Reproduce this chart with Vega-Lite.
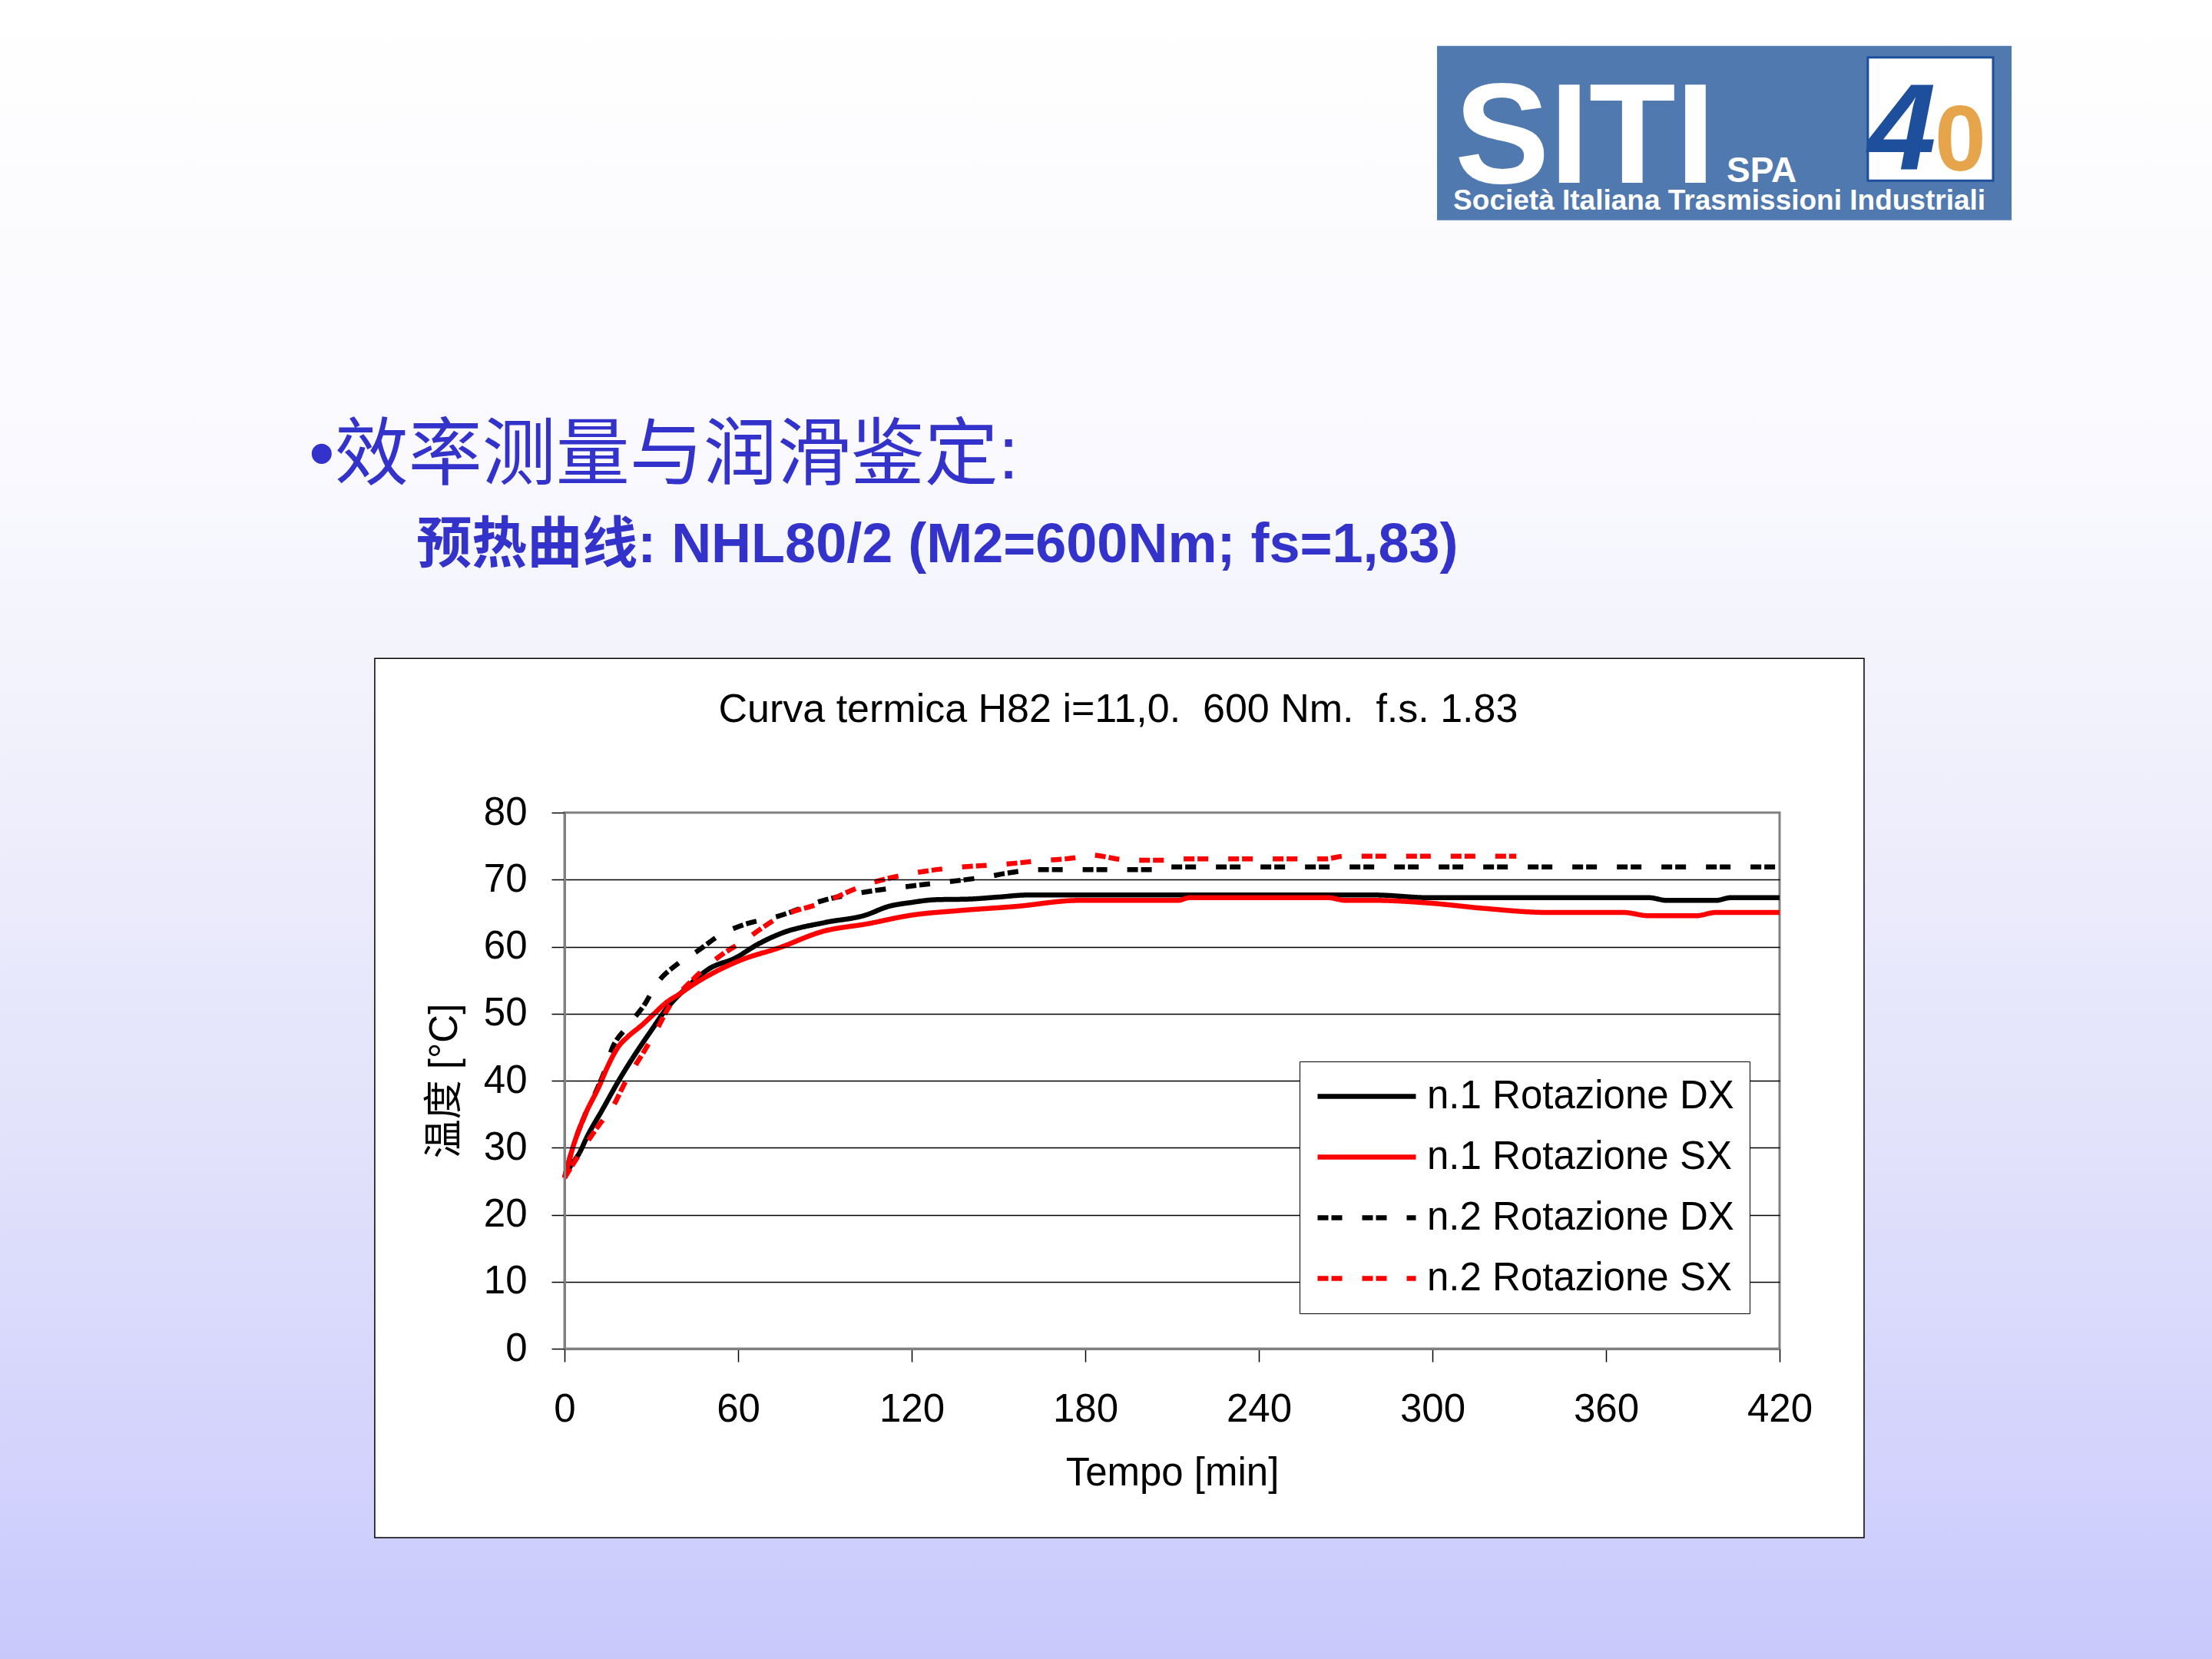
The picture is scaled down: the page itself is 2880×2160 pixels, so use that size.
{
  "$schema": "https://vega.github.io/schema/vega-lite/v6.json",
  "autosize": {"type": "none"},
  "width": 1582,
  "height": 698,
  "padding": {"left": 735, "top": 1058, "right": 563, "bottom": 404},
  "background": "#ffffff",
  "config": {
    "font": "Liberation Sans",
    "view": {"stroke": null}
  },
  "resolve": {"scale": {"x": "independent", "y": "independent"}},
  "data": {
    "values": [
      {"t": 0, "temp": 25.5, "serie": "n.1 Rotazione DX"},
      {"t": 2, "temp": 27.2, "serie": "n.1 Rotazione DX"},
      {"t": 5, "temp": 29.1, "serie": "n.1 Rotazione DX"},
      {"t": 8, "temp": 31.8, "serie": "n.1 Rotazione DX"},
      {"t": 13, "temp": 35.6, "serie": "n.1 Rotazione DX"},
      {"t": 19, "temp": 40.2, "serie": "n.1 Rotazione DX"},
      {"t": 24.5, "temp": 44, "serie": "n.1 Rotazione DX"},
      {"t": 30, "temp": 47.5, "serie": "n.1 Rotazione DX"},
      {"t": 35, "temp": 50.6, "serie": "n.1 Rotazione DX"},
      {"t": 42, "temp": 53.8, "serie": "n.1 Rotazione DX"},
      {"t": 50, "temp": 56.7, "serie": "n.1 Rotazione DX"},
      {"t": 59, "temp": 58.3, "serie": "n.1 Rotazione DX"},
      {"t": 67, "temp": 60.4, "serie": "n.1 Rotazione DX"},
      {"t": 75, "temp": 62, "serie": "n.1 Rotazione DX"},
      {"t": 90, "temp": 63.6, "serie": "n.1 Rotazione DX"},
      {"t": 104, "temp": 64.7, "serie": "n.1 Rotazione DX"},
      {"t": 112, "temp": 66, "serie": "n.1 Rotazione DX"},
      {"t": 120, "temp": 66.6, "serie": "n.1 Rotazione DX"},
      {"t": 128, "temp": 67, "serie": "n.1 Rotazione DX"},
      {"t": 140, "temp": 67.1, "serie": "n.1 Rotazione DX"},
      {"t": 150, "temp": 67.4, "serie": "n.1 Rotazione DX"},
      {"t": 160, "temp": 67.7, "serie": "n.1 Rotazione DX"},
      {"t": 220, "temp": 67.7, "serie": "n.1 Rotazione DX"},
      {"t": 280, "temp": 67.7, "serie": "n.1 Rotazione DX"},
      {"t": 299, "temp": 67.3, "serie": "n.1 Rotazione DX"},
      {"t": 375, "temp": 67.3, "serie": "n.1 Rotazione DX"},
      {"t": 381, "temp": 66.9, "serie": "n.1 Rotazione DX"},
      {"t": 398, "temp": 66.9, "serie": "n.1 Rotazione DX"},
      {"t": 403, "temp": 67.3, "serie": "n.1 Rotazione DX"},
      {"t": 420, "temp": 67.3, "serie": "n.1 Rotazione DX"},

      {"t": 0, "temp": 25.5, "serie": "n.2 Rotazione DX"},
      {"t": 3, "temp": 30.2, "serie": "n.2 Rotazione DX"},
      {"t": 7, "temp": 34.8, "serie": "n.2 Rotazione DX"},
      {"t": 11, "temp": 38.5, "serie": "n.2 Rotazione DX"},
      {"t": 14, "temp": 41.6, "serie": "n.2 Rotazione DX"},
      {"t": 16, "temp": 44.3, "serie": "n.2 Rotazione DX"},
      {"t": 22, "temp": 48.2, "serie": "n.2 Rotazione DX"},
      {"t": 28.3, "temp": 51.8, "serie": "n.2 Rotazione DX"},
      {"t": 31, "temp": 53.9, "serie": "n.2 Rotazione DX"},
      {"t": 39.3, "temp": 57.5, "serie": "n.2 Rotazione DX"},
      {"t": 45.8, "temp": 59.3, "serie": "n.2 Rotazione DX"},
      {"t": 54.4, "temp": 61.9, "serie": "n.2 Rotazione DX"},
      {"t": 61.5, "temp": 63.2, "serie": "n.2 Rotazione DX"},
      {"t": 74.3, "temp": 64.6, "serie": "n.2 Rotazione DX"},
      {"t": 89.5, "temp": 66.9, "serie": "n.2 Rotazione DX"},
      {"t": 104.6, "temp": 68.2, "serie": "n.2 Rotazione DX"},
      {"t": 119, "temp": 69, "serie": "n.2 Rotazione DX"},
      {"t": 135, "temp": 69.8, "serie": "n.2 Rotazione DX"},
      {"t": 147, "temp": 70.5, "serie": "n.2 Rotazione DX"},
      {"t": 152, "temp": 70.9, "serie": "n.2 Rotazione DX"},
      {"t": 164, "temp": 71.5, "serie": "n.2 Rotazione DX"},
      {"t": 204, "temp": 71.5, "serie": "n.2 Rotazione DX"},
      {"t": 208, "temp": 71.9, "serie": "n.2 Rotazione DX"},
      {"t": 300, "temp": 71.9, "serie": "n.2 Rotazione DX"},
      {"t": 420, "temp": 71.9, "serie": "n.2 Rotazione DX"},

      {"t": 0, "temp": 25.5, "serie": "n.1 Rotazione SX"},
      {"t": 3, "temp": 30.2, "serie": "n.1 Rotazione SX"},
      {"t": 7, "temp": 34.8, "serie": "n.1 Rotazione SX"},
      {"t": 12, "temp": 39.2, "serie": "n.1 Rotazione SX"},
      {"t": 15, "temp": 42.2, "serie": "n.1 Rotazione SX"},
      {"t": 18.5, "temp": 45, "serie": "n.1 Rotazione SX"},
      {"t": 22, "temp": 46.6, "serie": "n.1 Rotazione SX"},
      {"t": 26.5, "temp": 48.2, "serie": "n.1 Rotazione SX"},
      {"t": 31, "temp": 50, "serie": "n.1 Rotazione SX"},
      {"t": 35, "temp": 51.6, "serie": "n.1 Rotazione SX"},
      {"t": 40, "temp": 53, "serie": "n.1 Rotazione SX"},
      {"t": 44, "temp": 54.2, "serie": "n.1 Rotazione SX"},
      {"t": 51.5, "temp": 56.1, "serie": "n.1 Rotazione SX"},
      {"t": 61, "temp": 58, "serie": "n.1 Rotazione SX"},
      {"t": 74, "temp": 59.8, "serie": "n.1 Rotazione SX"},
      {"t": 89.5, "temp": 62.3, "serie": "n.1 Rotazione SX"},
      {"t": 104.6, "temp": 63.4, "serie": "n.1 Rotazione SX"},
      {"t": 120, "temp": 64.7, "serie": "n.1 Rotazione SX"},
      {"t": 137, "temp": 65.4, "serie": "n.1 Rotazione SX"},
      {"t": 156, "temp": 66, "serie": "n.1 Rotazione SX"},
      {"t": 178, "temp": 66.9, "serie": "n.1 Rotazione SX"},
      {"t": 212, "temp": 66.9, "serie": "n.1 Rotazione SX"},
      {"t": 216, "temp": 67.3, "serie": "n.1 Rotazione SX"},
      {"t": 264, "temp": 67.3, "serie": "n.1 Rotazione SX"},
      {"t": 270, "temp": 66.9, "serie": "n.1 Rotazione SX"},
      {"t": 280, "temp": 66.9, "serie": "n.1 Rotazione SX"},
      {"t": 299, "temp": 66.5, "serie": "n.1 Rotazione SX"},
      {"t": 318, "temp": 65.7, "serie": "n.1 Rotazione SX"},
      {"t": 340, "temp": 65.1, "serie": "n.1 Rotazione SX"},
      {"t": 366, "temp": 65.1, "serie": "n.1 Rotazione SX"},
      {"t": 375, "temp": 64.6, "serie": "n.1 Rotazione SX"},
      {"t": 391, "temp": 64.6, "serie": "n.1 Rotazione SX"},
      {"t": 398, "temp": 65.1, "serie": "n.1 Rotazione SX"},
      {"t": 420, "temp": 65.1, "serie": "n.1 Rotazione SX"},

      {"t": 0, "temp": 25.5, "serie": "n.2 Rotazione SX"},
      {"t": 6, "temp": 29.6, "serie": "n.2 Rotazione SX"},
      {"t": 12.3, "temp": 33.6, "serie": "n.2 Rotazione SX"},
      {"t": 16, "temp": 35.6, "serie": "n.2 Rotazione SX"},
      {"t": 21.3, "temp": 40, "serie": "n.2 Rotazione SX"},
      {"t": 27.4, "temp": 44.3, "serie": "n.2 Rotazione SX"},
      {"t": 31.1, "temp": 47, "serie": "n.2 Rotazione SX"},
      {"t": 36.4, "temp": 51.2, "serie": "n.2 Rotazione SX"},
      {"t": 44.4, "temp": 55.1, "serie": "n.2 Rotazione SX"},
      {"t": 54.4, "temp": 58.8, "serie": "n.2 Rotazione SX"},
      {"t": 61, "temp": 60.6, "serie": "n.2 Rotazione SX"},
      {"t": 74.3, "temp": 64.4, "serie": "n.2 Rotazione SX"},
      {"t": 89.5, "temp": 66.6, "serie": "n.2 Rotazione SX"},
      {"t": 104.6, "temp": 69.3, "serie": "n.2 Rotazione SX"},
      {"t": 119.8, "temp": 70.9, "serie": "n.2 Rotazione SX"},
      {"t": 135, "temp": 71.8, "serie": "n.2 Rotazione SX"},
      {"t": 152, "temp": 72.3, "serie": "n.2 Rotazione SX"},
      {"t": 164, "temp": 72.8, "serie": "n.2 Rotazione SX"},
      {"t": 178.5, "temp": 73.4, "serie": "n.2 Rotazione SX"},
      {"t": 181, "temp": 73.7, "serie": "n.2 Rotazione SX"},
      {"t": 195.5, "temp": 72.9, "serie": "n.2 Rotazione SX"},
      {"t": 207, "temp": 72.9, "serie": "n.2 Rotazione SX"},
      {"t": 212.6, "temp": 73.1, "serie": "n.2 Rotazione SX"},
      {"t": 263, "temp": 73.1, "serie": "n.2 Rotazione SX"},
      {"t": 269.5, "temp": 73.5, "serie": "n.2 Rotazione SX"},
      {"t": 329, "temp": 73.5, "serie": "n.2 Rotazione SX"}
    ]
  },
  "layer": [
    {
      "data": {"values": [{}]},
      "mark": {
        "type": "rect",
        "clip": false,
        "fill": {
          "gradient": "linear", "x1": 0, "y1": 0, "x2": 0, "y2": 1,
          "stops": [
            {"offset": 0, "color": "#ffffff"},
            {"offset": 0.3, "color": "#f8f8fe"},
            {"offset": 0.46, "color": "#f0f0fc"},
            {"offset": 0.7, "color": "#e1e1fb"},
            {"offset": 0.93, "color": "#cfcffd"},
            {"offset": 1, "color": "#c8c8fa"}
          ]
        }
      },
      "encoding": {
        "x": {"datum": -195.13, "type": "quantitative", "scale": {"domain": [0, 420], "nice": false, "zero": false}, "axis": null},
        "x2": {"datum": 569.5},
        "y": {"datum": 201.26, "type": "quantitative", "scale": {"domain": [0, 80], "nice": false}, "axis": null},
        "y2": {"datum": -46.3}
      }
    },
    {
      "data": {"values": [{}]},
      "mark": {"type": "rect", "clip": false, "fill": "#5079b0"},
      "encoding": {
        "x": {"datum": 301.6, "type": "quantitative", "scale": {"domain": [0, 420], "nice": false, "zero": false}, "axis": null},
        "x2": {"datum": 500.2},
        "y": {"datum": 194.4, "type": "quantitative", "scale": {"domain": [0, 80], "nice": false}, "axis": null},
        "y2": {"datum": 168.4}
      }
    },
    {
      "data": {"values": [{}]},
      "mark": {"type": "rect", "clip": false, "fill": "#ffffff", "stroke": "#1d4f9c", "strokeWidth": 3},
      "encoding": {
        "x": {"datum": 450.5, "type": "quantitative", "scale": {"domain": [0, 420], "nice": false, "zero": false}, "axis": null},
        "x2": {"datum": 493.8},
        "y": {"datum": 192.7, "type": "quantitative", "scale": {"domain": [0, 80], "nice": false}, "axis": null},
        "y2": {"datum": 174.3}
      }
    },
    {
      "data": {"values": [{}]},
      "mark": {"type": "text", "clip": false, "text": "SITI", "fontWeight": "bold", "fontSize": 185, "color": "#ffffff", "align": "left", "baseline": "alphabetic"},
      "encoding": {
        "x": {"datum": 307.7, "type": "quantitative", "scale": {"domain": [0, 420], "nice": false, "zero": false}, "axis": null},
        "y": {"datum": 174.0, "type": "quantitative", "scale": {"domain": [0, 80], "nice": false}, "axis": null}
      }
    },
    {
      "data": {"values": [{}]},
      "mark": {"type": "text", "clip": false, "text": "SPA", "fontWeight": "bold", "fontSize": 46, "color": "#ffffff", "align": "left", "baseline": "alphabetic"},
      "encoding": {
        "x": {"datum": 401.7, "type": "quantitative", "scale": {"domain": [0, 420], "nice": false, "zero": false}, "axis": null},
        "y": {"datum": 174.1, "type": "quantitative", "scale": {"domain": [0, 80], "nice": false}, "axis": null}
      }
    },
    {
      "data": {"values": [{}]},
      "mark": {"type": "text", "clip": false, "text": "Società Italiana Trasmissioni Industriali", "fontWeight": "bold", "fontSize": 37, "color": "#ffffff", "align": "left", "baseline": "alphabetic"},
      "encoding": {
        "x": {"datum": 307.2, "type": "quantitative", "scale": {"domain": [0, 420], "nice": false, "zero": false}, "axis": null},
        "y": {"datum": 170.0, "type": "quantitative", "scale": {"domain": [0, 80], "nice": false}, "axis": null}
      }
    },
    {
      "data": {"values": [{}]},
      "mark": {"type": "text", "clip": false, "text": "0", "fontWeight": "bold", "fontSize": 120, "color": "#e6a54a", "align": "center", "baseline": "alphabetic"},
      "encoding": {
        "x": {"datum": 482.5, "type": "quantitative", "scale": {"domain": [0, 420], "nice": false, "zero": false}, "axis": null},
        "y": {"datum": 175.8, "type": "quantitative", "scale": {"domain": [0, 80], "nice": false}, "axis": null}
      }
    },
    {
      "data": {"values": [{}]},
      "mark": {"type": "text", "clip": false, "text": "4", "fontWeight": "bold", "fontStyle": "italic", "fontSize": 160, "color": "#1d4f9c", "align": "center", "baseline": "alphabetic"},
      "encoding": {
        "x": {"datum": 462.3, "type": "quantitative", "scale": {"domain": [0, 420], "nice": false, "zero": false}, "axis": null},
        "y": {"datum": 176.0, "type": "quantitative", "scale": {"domain": [0, 80], "nice": false}, "axis": null}
      }
    },
    {
      "data": {"values": [{}]},
      "mark": {"type": "text", "clip": false, "text": "•效率测量与润滑鉴定:", "font": "Liberation Sans, Noto Sans CJK SC", "fontSize": 96, "color": "#3333cc", "align": "left", "baseline": "alphabetic"},
      "encoding": {
        "x": {"datum": -88.4, "type": "quantitative", "scale": {"domain": [0, 420], "nice": false, "zero": false}, "axis": null},
        "y": {"datum": 129.9, "type": "quantitative", "scale": {"domain": [0, 80], "nice": false}, "axis": null}
      }
    },
    {
      "data": {"values": [{}]},
      "mark": {"type": "text", "clip": false, "text": "预热曲线: NHL80/2 (M2=600Nm; fs=1,83)", "font": "Liberation Sans, Noto Sans CJK SC", "fontWeight": "bold", "fontSize": 72, "color": "#3333cc", "align": "left", "baseline": "alphabetic"},
      "encoding": {
        "x": {"datum": -51.2, "type": "quantitative", "scale": {"domain": [0, 420], "nice": false, "zero": false}, "axis": null},
        "y": {"datum": 117.4, "type": "quantitative", "scale": {"domain": [0, 80], "nice": false}, "axis": null}
      }
    },
    {
      "data": {"values": [{}]},
      "mark": {"type": "rect", "clip": false, "fill": "#ffffff", "stroke": "#000000", "strokeWidth": 1.5},
      "encoding": {
        "x": {"datum": -65.6, "type": "quantitative", "scale": {"domain": [0, 420], "nice": false, "zero": false}, "axis": null},
        "x2": {"datum": 449.2},
        "y": {"datum": 103.0, "type": "quantitative", "scale": {"domain": [0, 80], "nice": false}, "axis": null},
        "y2": {"datum": -28.2}
      }
    },
    {
      "data": {"values": [{}]},
      "mark": {"type": "text", "clip": false, "text": "Curva termica H82 i=11,0.\u00a0 600 Nm.\u00a0 f.s. 1.83", "fontSize": 52, "color": "#000000", "align": "center", "baseline": "alphabetic"},
      "encoding": {
        "x": {"datum": 191.4, "type": "quantitative", "scale": {"domain": [0, 420], "nice": false, "zero": false}, "axis": null},
        "y": {"datum": 93.5, "type": "quantitative", "scale": {"domain": [0, 80], "nice": false}, "axis": null}
      }
    },
    {
      "data": {"values": [{}]},
      "mark": {"type": "rect", "clip": false, "fill": "transparent", "stroke": "#808080", "strokeWidth": 3},
      "encoding": {
        "x": {"datum": 0, "type": "quantitative", "scale": {"domain": [0, 420], "nice": false, "zero": false}, "axis": null},
        "x2": {"datum": 420},
        "y": {"datum": 80, "type": "quantitative", "scale": {"domain": [0, 80], "nice": false}, "axis": null},
        "y2": {"datum": 0}
      }
    },
    {
      "mark": {"type": "line", "strokeWidth": 6.5, "interpolate": "monotone", "clip": false},
      "encoding": {
        "x": {
          "field": "t",
          "type": "quantitative",
          "scale": {"domain": [0, 420], "nice": false, "zero": false},
          "axis": {
            "title": "Tempo [min]",
            "values": [0, 60, 120, 180, 240, 300, 360, 420],
            "grid": false,
            "zindex": 1,
            "labelFont": "Liberation Sans",
            "labelFontSize": 51,
            "labelColor": "#000000",
            "labelFlush": false,
            "labelOverlap": false,
            "labelPadding": 37,
            "tickSize": 17,
            "tickColor": "#000000",
            "tickWidth": 1.5,
            "domainColor": "#808080",
            "domainWidth": 3,
            "titleFont": "Liberation Sans",
            "titleFontSize": 51,
            "titleFontWeight": "normal",
            "titleColor": "#000000",
            "titlePadding": 33
          }
        },
        "y": {
          "field": "temp",
          "type": "quantitative",
          "scale": {"domain": [0, 80], "nice": false},
          "axis": {
            "title": "温度 [°C]",
            "values": [0, 10, 20, 30, 40, 50, 60, 70, 80],
            "grid": true,
            "gridColor": {"condition": {"test": "datum.value === 80 || datum.value === 0", "value": "transparent"}, "value": "#000000"},
            "gridWidth": 1.6,
            "zindex": 1,
            "labelFont": "Liberation Sans",
            "labelFontSize": 51,
            "labelColor": "#000000",
            "labelFlush": false,
            "labelOverlap": false,
            "labelPadding": 32,
            "tickSize": 17,
            "tickColor": "#000000",
            "tickWidth": 1.5,
            "domainColor": "#808080",
            "domainWidth": 3,
            "titleFont": "Liberation Sans, Noto Sans CJK SC",
            "titleFontSize": 51,
            "titleFontWeight": "normal",
            "titleColor": "#000000",
            "titlePadding": 24
          }
        },
        "color": {
          "field": "serie",
          "type": "nominal",
          "scale": {
            "domain": ["n.1 Rotazione DX", "n.1 Rotazione SX", "n.2 Rotazione DX", "n.2 Rotazione SX"],
            "range": ["#000000", "#ff0000", "#000000", "#ff0000"]
          },
          "legend": {
            "title": null,
            "orient": "none",
            "legendX": 957,
            "legendY": 324,
            "zindex": 1,
            "fillColor": "#ffffff",
            "strokeColor": "#000000",
            "padding": 20,
            "labelFont": "Liberation Sans",
            "labelFontSize": 51,
            "labelColor": "#000000",
            "labelOffset": 11,
            "labelLimit": 0,
            "clipHeight": 51,
            "rowPadding": 27,
            "symbolType": "stroke",
            "symbolSize": 16384,
            "symbolStrokeWidth": 6.5
          }
        },
        "strokeDash": {
          "field": "serie",
          "type": "nominal",
          "scale": {
            "domain": ["n.1 Rotazione DX", "n.1 Rotazione SX", "n.2 Rotazione DX", "n.2 Rotazione SX"],
            "range": [[1, 0], [1, 0], [14, 4, 14, 26], [14, 4, 14, 26]]
          },
          "legend": {
            "title": null,
            "orient": "none",
            "legendX": 957,
            "legendY": 324,
            "zindex": 1,
            "fillColor": "#ffffff",
            "strokeColor": "#000000",
            "padding": 20,
            "labelFont": "Liberation Sans",
            "labelFontSize": 51,
            "labelColor": "#000000",
            "labelOffset": 11,
            "labelLimit": 0,
            "clipHeight": 51,
            "rowPadding": 27,
            "symbolType": "stroke",
            "symbolSize": 16384,
            "symbolStrokeWidth": 6.5
          }
        }
      }
    }
  ]
}
